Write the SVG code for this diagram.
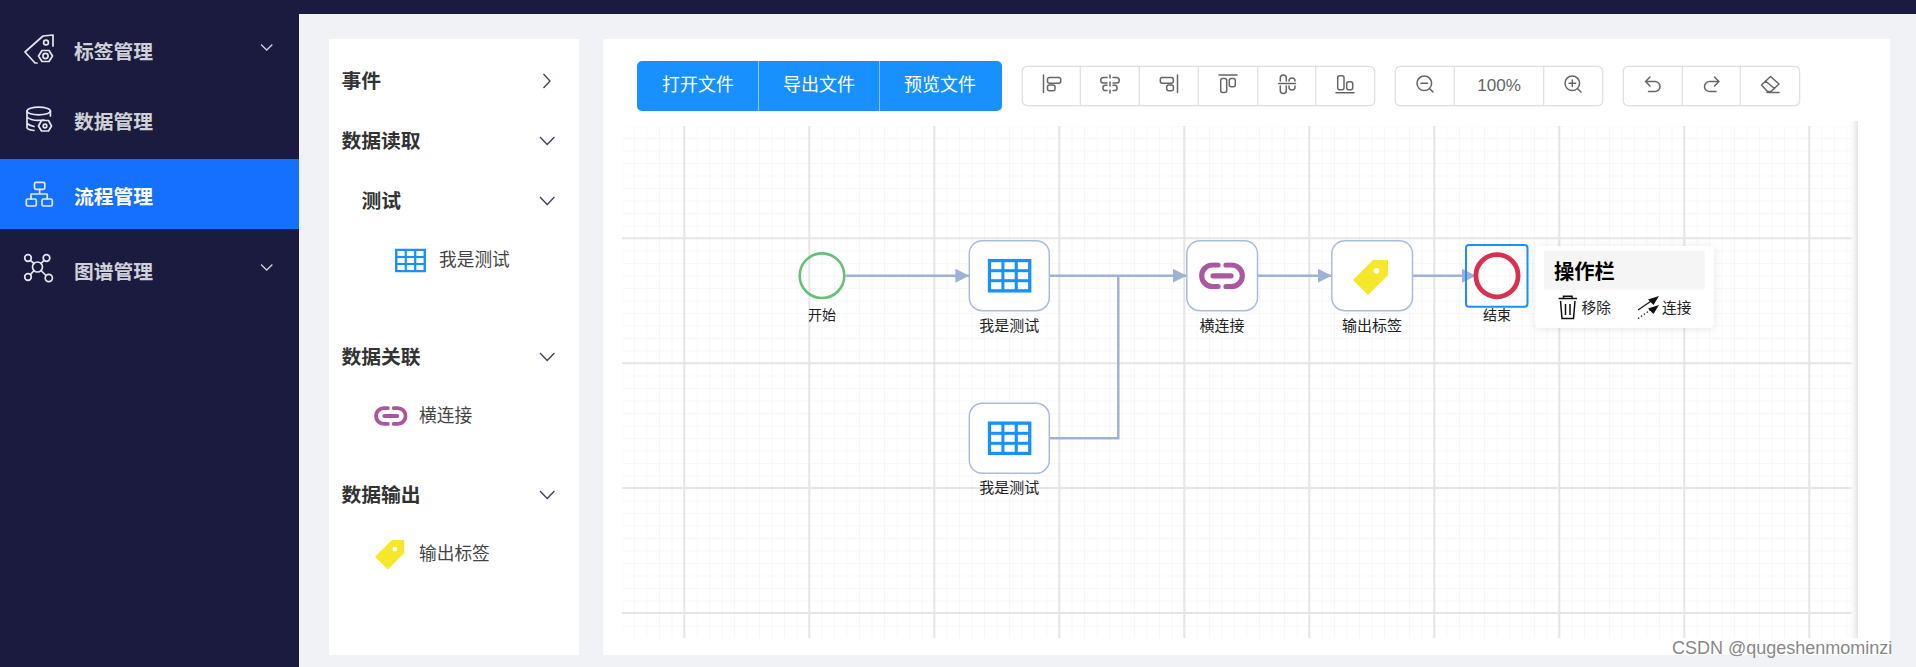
<svg xmlns="http://www.w3.org/2000/svg" width="1916" height="667" viewBox="0 0 1916 667">
<style>
text{font-family:"Noto Sans CJK SC","Liberation Sans",sans-serif}
.side{font-size:19.8px;font-weight:700;fill:#cfd0d8}
.head{font-size:19.8px;font-weight:700;fill:#333}
.item{font-size:17.7px;fill:#444}
.btn{font-size:18px;fill:#fff;text-anchor:middle}
.lbl{font-size:15px;fill:#222;text-anchor:middle}
.lbl2{font-size:14px;fill:#222;text-anchor:middle}
.ic{fill:none;stroke:#e6e7ee;stroke-width:1.7;stroke-linejoin:round;stroke-linecap:round}
.cv{fill:none;stroke:#cfd3e0;stroke-width:1.3}
.cp{fill:none;stroke:#39405a;stroke-width:1.3}
.grp{fill:#fff;stroke:#dcdde6;stroke-width:1.2}
.div{stroke:#dcdde6;stroke-width:1.2}
.ti{fill:none;stroke:#666;stroke-width:1.5;stroke-linejoin:round;stroke-linecap:round}
.box{fill:#fff;stroke:#a9bcdc;stroke-width:1.5}
.edge{fill:none;stroke:#9fb2d6;stroke-width:2.5}
</style>
<defs>
<pattern id="minor" patternUnits="userSpaceOnUse" x="684" y="238" width="12.5" height="12.5">
<path d="M0.5,0V12.5M0,0.5H12.5" fill="none" stroke="#f7f7f7" stroke-width="1"/>
</pattern>
<linearGradient id="edgeShade" x1="0" x2="1" y1="0" y2="0">
<stop offset="0" stop-color="#fff" stop-opacity="0"/>
<stop offset="1" stop-color="#e2e2e2"/>
</linearGradient>
<filter id="popShadow" x="-10%" y="-20%" width="120%" height="140%">
<feDropShadow dx="0" dy="1" stdDeviation="4" flood-color="#000" flood-opacity="0.1"/>
</filter>
<marker id="arrow" markerUnits="userSpaceOnUse" markerWidth="15" markerHeight="15" refX="14" refY="7" orient="auto">
<path d="M0,0L14,7L0,14Z" fill="#9fb2d6"/>
</marker>
<symbol id="table" viewBox="0 0 44 34">
<rect width="44" height="34" fill="#1890ff"/>
<g fill="#fff">
<rect x="3.5" y="3.5" width="10.3" height="7"/><rect x="16.8" y="3.5" width="10.3" height="7"/><rect x="30.2" y="3.5" width="10.3" height="7"/>
<rect x="3.5" y="13.5" width="10.3" height="7"/><rect x="16.8" y="13.5" width="10.3" height="7"/><rect x="30.2" y="13.5" width="10.3" height="7"/>
<rect x="3.5" y="23.5" width="10.3" height="7"/><rect x="16.8" y="23.5" width="10.3" height="7"/><rect x="30.2" y="23.5" width="10.3" height="7"/>
</g>
</symbol>
<symbol id="link" viewBox="0 0 46 27">
<path d="M19,2.7H13.5a10.8,10.8 0 0 0 0,21.6H19M27,2.7H32.5a10.8,10.8 0 0 1 0,21.6H27M14,13.5H32" fill="none" stroke="#a9579f" stroke-width="5.2" stroke-linecap="round"/>
</symbol>
<symbol id="tag" viewBox="0 0 35 35">
<path d="M20,0H35V15L15,35L0,20Z" fill="#f5e82a"/>
<circle cx="23.5" cy="10.8" r="2.8" fill="#fff"/>
</symbol>
</defs>

<rect width="1916" height="667" fill="#f0f2f5"/>

<g id="sidebar">
<rect width="299" height="667" fill="#1a1b3f"/>
<rect width="1916" height="14" fill="#1a1b3f"/>
<rect y="159" width="299" height="70" fill="#1570ff"/>
<g id="menu-tag">
<path class="ic" d="M53,35L43,36L25,52L35,63H37M53,35V46"/>
<circle class="ic" cx="46" cy="42.5" r="2.4"/>
<circle class="ic" cx="45.5" cy="56" r="2.6"/>
<path class="ic" d="M42,50.5L49,50.5L52.5,56L49,61.5H42L38.5,56Z"/>
<text class="side" x="74" y="58.5">标签管理</text>
<path class="cv" d="M261,44.5L266.7,50L272.4,44.5"/>
</g>
<g id="menu-data">
<ellipse class="ic" cx="38.7" cy="111" rx="11.7" ry="3.8"/>
<path class="ic" d="M27,111V127.5C27,129 30,130 34,130.5M50.4,111V116M27,117C30,120 36,121 44,120M27,123.5C29,125 31,126 34,126.5"/>
<path class="ic" d="M41.5,120.5H48.5L51.5,126L48.5,131H41.5L38.5,126Z"/>
<circle class="ic" cx="45" cy="126" r="1.8"/>
<text class="side" x="74" y="128.5">数据管理</text>
</g>
<g id="menu-flow">
<rect class="ic" x="34.5" y="182.3" width="10.3" height="7" rx="1.5"/>
<rect class="ic" x="26.3" y="199" width="10" height="7" rx="1.5"/>
<rect class="ic" x="42" y="199" width="10.3" height="7" rx="1.5"/>
<path class="ic" d="M39.6,189.3V194M31,199V194H47.2V199"/>
<text class="side" x="74" y="203.5" style="fill:#fff">流程管理</text>
</g>
<g id="menu-graph">
<circle class="ic" cx="37.5" cy="267" r="5"/>
<circle class="ic" cx="28" cy="258" r="3.3"/>
<circle class="ic" cx="46.5" cy="258" r="3.3"/>
<circle class="ic" cx="28" cy="277" r="3.3"/>
<circle class="ic" cx="48.8" cy="278" r="3.6"/>
<path class="ic" d="M30.4,260.4L34,263.5M44,260.4L41,263.5M30.4,274.6L34,270.5M46,275.5L41,270.5"/>
<text class="side" x="74" y="278.5">图谱管理</text>
<path class="cv" d="M261,264.5L266.7,270L272.4,264.5"/>
</g>
</g>

<g id="palette">
<rect x="329" y="39" width="250" height="616" fill="#fff"/>
<text class="head" x="341.5" y="88">事件</text>
<path class="cp" d="M543.5,74L550,81L543.5,88"/>
<text class="head" x="341.5" y="148">数据读取</text>
<path class="cp" d="M540,137L547.2,144.5L554.4,137"/>
<text class="head" x="361.5" y="208">测试</text>
<path class="cp" d="M540,197L547.2,204.5L554.4,197"/>
<use href="#table" x="395" y="248.5" width="31" height="24"/>
<text class="item" x="439" y="265.5">我是测试</text>
<text class="head" x="341.5" y="364">数据关联</text>
<path class="cp" d="M540,353L547.2,360.5L554.4,353"/>
<use href="#link" x="374" y="406" width="33.6" height="20"/>
<text class="item" x="419" y="422">横连接</text>
<text class="head" x="341.5" y="502">数据输出</text>
<path class="cp" d="M540,491L547.2,498.5L554.4,491"/>
<use href="#tag" x="375" y="540" width="29.5" height="29.5"/>
<text class="item" x="419" y="560">输出标签</text>
</g>

<rect id="main-panel" x="603.5" y="39" width="1286.5" height="616" fill="#fff"/>

<g id="toolbar-file">
<rect x="637" y="61" width="365" height="50" rx="5" fill="#1890ff"/>
<path d="M758.5,61V111M879.5,61V111" stroke="#8cc8ff" stroke-width="1"/>
<text class="btn" x="698" y="91">打开文件</text>
<text class="btn" x="819" y="91">导出文件</text>
<text class="btn" x="940" y="91">预览文件</text>
</g>

<g id="toolbar-align">
<rect class="grp" x="1022.3" y="66.3" width="352.4" height="39.4" rx="5"/>
<path class="div" d="M1080.3,66.3V105.7M1139.3,66.3V105.7M1198.3,66.3V105.7M1257.7,66.3V105.7M1315.7,66.3V105.7"/>
<path class="ti" d="M1043.5,75V92.5"/><rect class="ti" x="1047.5" y="77.5" width="13.2" height="5.8" rx="2"/><rect class="ti" x="1047.5" y="85" width="7.5" height="5.8" rx="2"/>
<path class="ti" d="M1110,75V78M1110,82V86M1110,90V93M1107,77.5H1103.5a2.8,2.8 0 0 0 0,5.6H1107M1113,77.5H1116.5a2.8,2.8 0 0 1 0,5.6H1113M1107,85.3H1105.5a2.6,2.6 0 0 0 0,5.2H1107M1113,85.3H1114.5a2.6,2.6 0 0 1 0,5.2H1113"/>
<path class="ti" d="M1177.5,75V92.5"/><rect class="ti" x="1160.3" y="77.5" width="13" height="5.8" rx="2"/><rect class="ti" x="1166.7" y="85" width="6.7" height="5.8" rx="2"/>
<path class="ti" d="M1219,75H1237"/><rect class="ti" x="1220.7" y="78.5" width="6" height="14" rx="2"/><rect class="ti" x="1229.3" y="78.5" width="6" height="8.2" rx="2"/>
<path class="ti" d="M1278.5,83.5H1295.5M1280.3,81V78a3,3 0 0 1 6,0V81M1280.3,86V90.5a3,3 0 0 0 6,0V86M1289,81a3,3 0 0 1 6,0M1289,86V87a3,3 0 0 0 6,0V86"/>
<path class="ti" d="M1336,92.7H1354"/><rect class="ti" x="1337.7" y="75.7" width="6.3" height="14" rx="2"/><rect class="ti" x="1346.7" y="81.7" width="6" height="8" rx="2"/>
</g>

<g id="toolbar-zoom">
<rect class="grp" x="1395.3" y="66.3" width="207.4" height="39.4" rx="5"/>
<path class="div" d="M1454.3,66.3V105.7M1543.7,66.3V105.7"/>
<circle class="ti" cx="1424.3" cy="83.3" r="7.3"/><path class="ti" d="M1429.7,88.7L1433,92M1421,83.3H1427.6"/>
<text x="1499" y="91" font-size="17.1" fill="#666" text-anchor="middle" style="font-family:'Liberation Sans',sans-serif">100%</text>
<circle class="ti" cx="1572.3" cy="83.3" r="7.3"/><path class="ti" d="M1577.7,88.7L1581,92M1569,83.3H1575.6M1572.3,80V86.6"/>
</g>

<g id="toolbar-history">
<rect class="grp" x="1623.3" y="66.3" width="176.4" height="39.4" rx="5"/>
<path class="div" d="M1682.3,66.3V105.7M1740.3,66.3V105.7"/>
<path class="ti" d="M1650,77L1645.5,81.5L1650,86M1646,81.5H1655a5,5 0 0 1 0,10H1648.5"/>
<path class="ti" d="M1714.5,77L1719,81.5L1714.5,86M1718.5,81.5H1709.5a5,5 0 0 0 0,10H1716"/>
<path class="ti" d="M1761.5,85L1770.5,76.5L1779,84L1771,91.5H1767.5ZM1765.5,81L1774.5,88.5M1767,92.5H1779"/>
</g>

<g id="canvas">
<rect x="622" y="126" width="1230" height="512" fill="#fff"/>
<rect x="622" y="126" width="1230" height="512" fill="url(#minor)"/>
<path d="M684.3,126V638M809.3,126V638M934.3,126V638M1059.3,126V638M1184.3,126V638M1309.3,126V638M1434.3,126V638M1559.3,126V638M1684.3,126V638M1809.3,126V638M622,238.3H1852M622,363.3H1852M622,488H1852M622,613H1852" fill="none" stroke="#e5e5e5" stroke-width="2"/>
<rect x="1848" y="121" width="10" height="517" fill="url(#edgeShade)"/>
</g>

<g id="connectors">
<path class="edge" marker-end="url(#arrow)" d="M845.5,275.7H969.3"/>
<path class="edge" marker-end="url(#arrow)" d="M1049.3,275.7H1186.8"/>
<path class="edge" d="M1049.3,438.3H1118.3V275.7"/>
<path class="edge" marker-end="url(#arrow)" d="M1257.5,275.7H1331.8"/>
<path class="edge" marker-end="url(#arrow)" d="M1412.5,275.7H1476"/>
</g>

<g id="node-start">
<circle cx="822" cy="275.7" r="22.3" fill="none" stroke="#67c077" stroke-width="2.6"/>
<text class="lbl2" x="822" y="320">开始</text>
</g>
<g id="node-table-1">
<rect class="box" x="969.3" y="240.7" width="80" height="70" rx="13"/>
<use href="#table" x="987.6" y="258.7" width="44" height="34"/>
<text class="lbl" x="1009.3" y="331">我是测试</text>
</g>
<g id="node-table-2">
<rect class="box" x="969.3" y="403.3" width="80" height="70" rx="13"/>
<use href="#table" x="987.6" y="421.3" width="44" height="34"/>
<text class="lbl" x="1009.3" y="493">我是测试</text>
</g>
<g id="node-join">
<rect class="box" x="1186.8" y="240.7" width="70.7" height="70" rx="13"/>
<use href="#link" x="1199" y="262.3" width="46" height="27"/>
<text class="lbl" x="1222" y="331">横连接</text>
</g>
<g id="node-output">
<rect class="box" x="1331.8" y="240.7" width="80.7" height="70" rx="13"/>
<use href="#tag" x="1353" y="260" width="35" height="35"/>
<text class="lbl" x="1372" y="331">输出标签</text>
</g>
<g id="node-end">
<rect x="1466" y="245" width="61.5" height="61.7" rx="3" fill="none" stroke="#1890ff" stroke-width="2"/>
<circle cx="1497" cy="275.7" r="21.1" fill="none" stroke="#d9304f" stroke-width="4.8"/>
<text class="lbl2" x="1497" y="320">结束</text>
</g>

<g id="popup">
<rect x="1534.6" y="246" width="179.4" height="81.7" rx="5" fill="#fff" filter="url(#popShadow)"/>
<rect x="1544" y="250.7" width="160.6" height="39.3" fill="#f5f5f5"/>
<text x="1554" y="279" font-size="20.3" font-weight="700" fill="#000">操作栏</text>
<path d="M1558.6,298.5H1577M1563.5,298V296.3H1572V298M1560.5,301L1562,318.5H1573.5L1575,301M1565.5,304V315M1570,304V315" fill="none" stroke="#111" stroke-width="1.5"/>
<text x="1581.5" y="313" font-size="14.67" fill="#222">移除</text>
<path d="M1638,310L1652,300.5" stroke="#111" stroke-width="1.2"/>
<path d="M1659,296L1648,299.5L1653.5,305Z" fill="#111"/>
<path d="M1638,318.5L1652,309" stroke="#111" stroke-width="1.2" stroke-dasharray="1.5 2"/>
<path d="M1659,305L1648,308.5L1653.5,314Z" fill="#111"/>
<text x="1662" y="313" font-size="14.67" fill="#222">连接</text>
</g>

<text id="watermark" x="1672" y="654" font-size="18" fill="#888" style="font-family:'Liberation Sans',sans-serif">CSDN @qugeshenmominzi</text>
</svg>
